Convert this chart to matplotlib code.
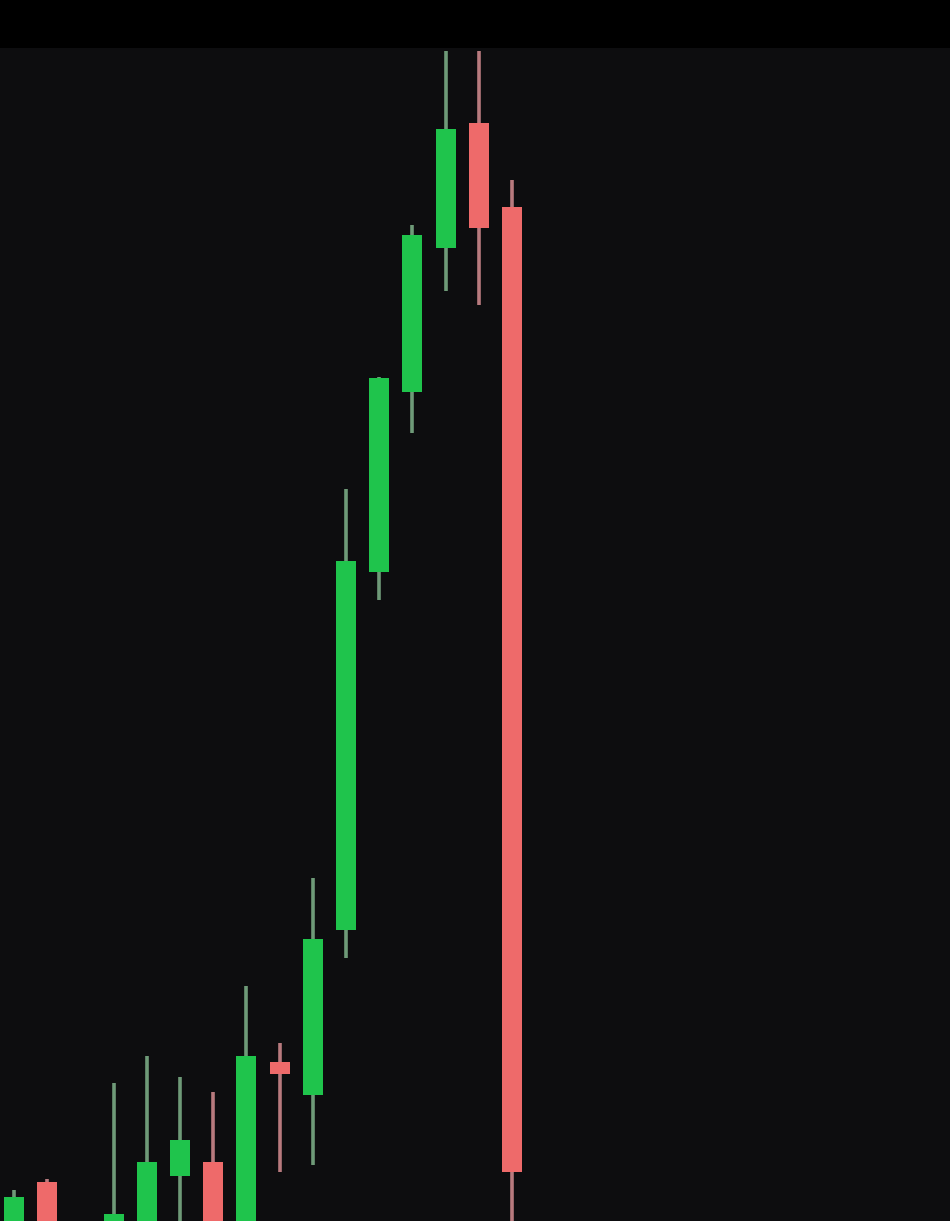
import numpy as np
import matplotlib.pyplot as plt

# candle data (open, high, low, close)
opens  = [98.1, 103.9, 95.5, 96.0, 98.5, 104.5, 105.9, 99.0, 115.9, 112.6, 129.1, 164.9, 182.9, 197.3, 209.8, 201.4]
highs  = [103.1, 104.2, 98.5, 113.8, 116.5, 114.4, 112.9, 123.5, 117.8, 134.3, 173.2, 184.4, 199.6, 217.0, 217.0, 204.1]
lows   = [97.1, 97.6, 94.5, 94.0, 97.0, 98.6, 96.0, 97.0, 104.9, 105.6, 126.3, 162.1, 178.8, 193.0, 191.6, 95.0]
closes = [102.4, 98.6, 97.5, 100.7, 105.9, 108.1, 97.5, 116.5, 114.7, 128.2, 166.0, 184.3, 198.6, 209.2, 199.3, 104.9]

up_body, up_wick = "#1fc44c", "#6e9a78"
dn_body, dn_wick = "#ee6a6a", "#b87a7e"

fig = plt.figure(figsize=(9.5, 12.21), dpi=100, facecolor="black")
ax = fig.add_axes([0, 0, 1, (1221 - 48) / 1221])
ax.set_facecolor("#0d0d0f")

x = np.arange(len(opens))
o = np.array(opens); c = np.array(closes)
up = c >= o
body_col = np.where(up, up_body, dn_body)
wick_col = np.where(up, up_wick, dn_wick)

ax.vlines(x, lows, highs, colors=wick_col, linewidth=2.6, zorder=2)
ax.bar(x, np.abs(c - o), bottom=np.minimum(o, c), width=0.6, color=body_col, zorder=3)

ax.set_xlim(-0.42, 28.19)
ax.set_ylim(100, 217.3)
ax.set_xticks([])
ax.set_yticks([])
for s in ax.spines.values():
    s.set_visible(False)

fig.savefig("out.png", dpi=100, facecolor=fig.get_facecolor())
